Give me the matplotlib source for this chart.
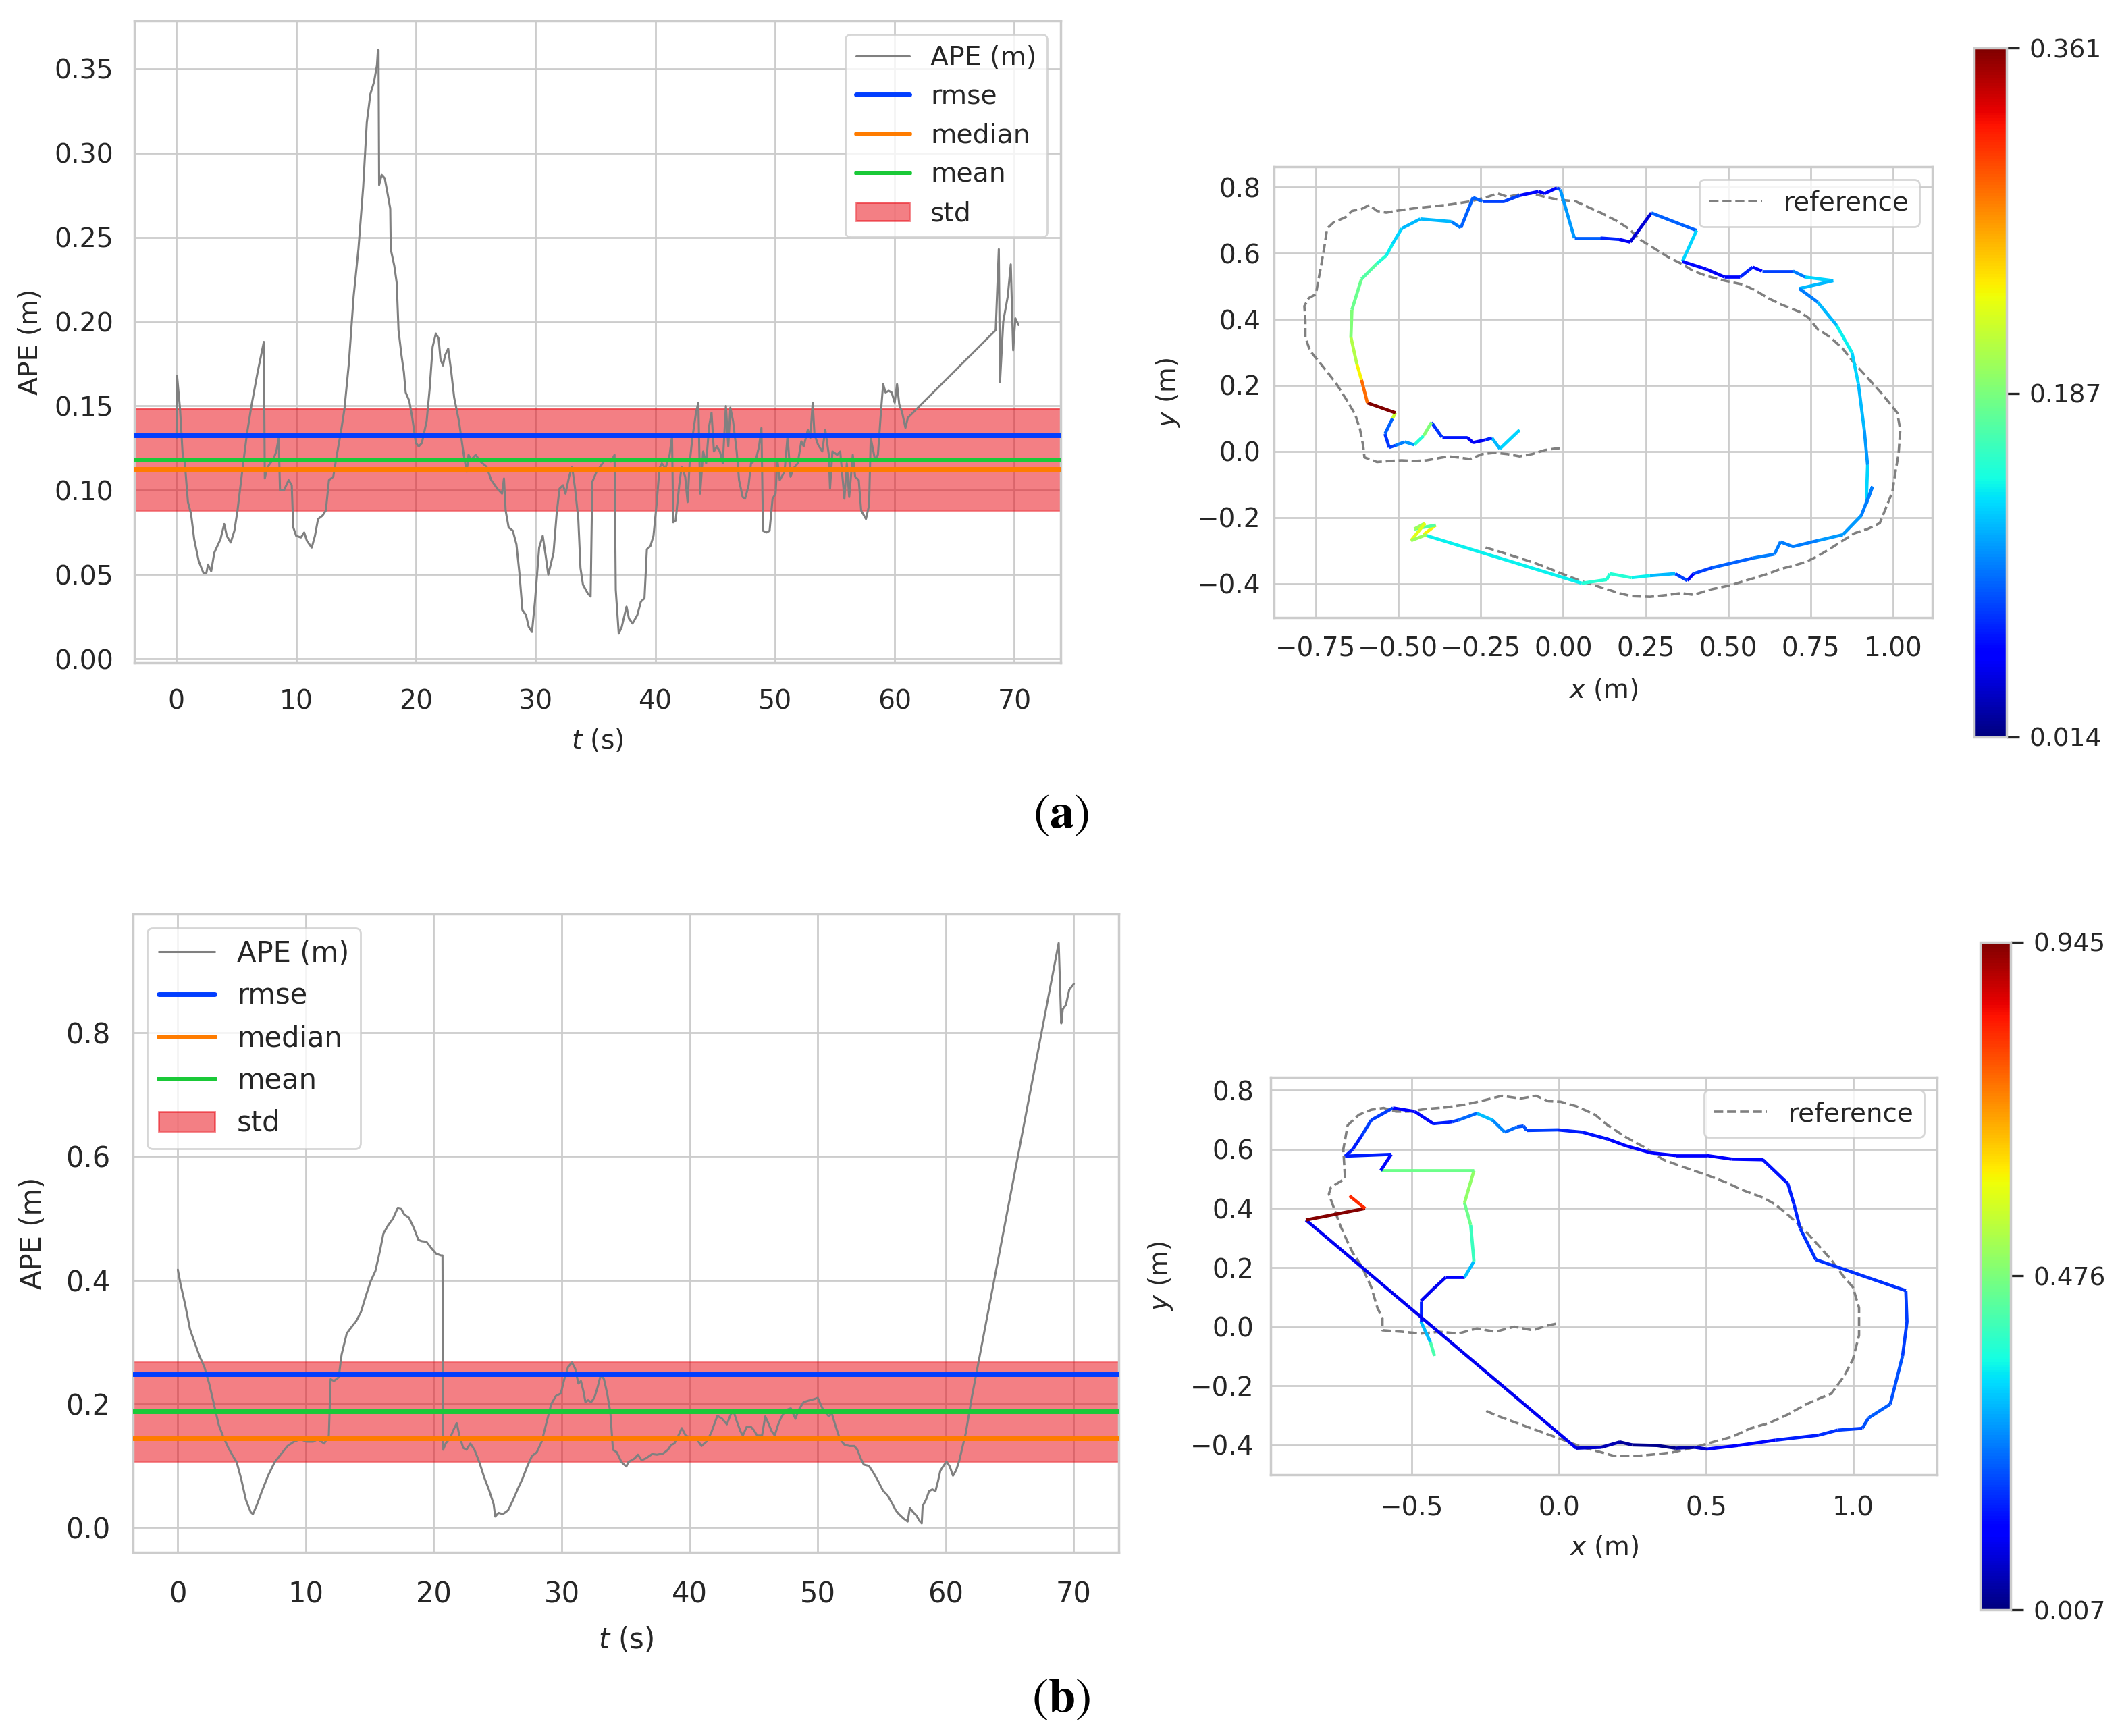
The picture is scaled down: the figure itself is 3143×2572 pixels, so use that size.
import numpy as np
import matplotlib
matplotlib.use("Agg")
import matplotlib.pyplot as plt
import seaborn as sns
from matplotlib.collections import LineCollection
from matplotlib.colors import Normalize
from matplotlib.cm import ScalarMappable

# -------------------------
# Data
# -------------------------
# (a) APE over time
ape_a = np.array([
    (0.0, 0.131), (0.05, 0.168), (0.3, 0.148), (0.52, 0.121), (0.7, 0.116), (0.96, 0.093),
    (1.22, 0.086), (1.48, 0.071), (1.86, 0.058), (2.25, 0.051), (2.5, 0.051), (2.64, 0.056),
    (2.9, 0.052), (3.16, 0.063), (3.42, 0.067), (3.68, 0.071), (3.99, 0.080), (4.2, 0.073),
    (4.53, 0.069), (4.84, 0.076), (5.1, 0.088), (5.49, 0.111), (5.88, 0.133), (6.26, 0.150),
    (6.78, 0.170), (7.3, 0.188), (7.38, 0.107), (7.56, 0.113), (7.82, 0.116), (8.08, 0.118),
    (8.34, 0.123), (8.54, 0.131), (8.65, 0.100), (8.98, 0.100), (9.37, 0.106), (9.63, 0.103),
    (9.76, 0.078), (10.0, 0.073), (10.4, 0.072), (10.67, 0.075), (10.9, 0.070), (11.3, 0.066),
    (11.57, 0.073), (11.83, 0.083), (12.2, 0.085), (12.48, 0.088), (12.74, 0.106), (13.1, 0.108),
    (13.4, 0.121), (13.77, 0.136), (14.03, 0.148), (14.4, 0.175), (14.8, 0.215), (15.2, 0.243),
    (15.6, 0.280), (15.9, 0.318), (16.2, 0.335), (16.5, 0.342), (16.75, 0.352), (16.83, 0.361),
    (16.88, 0.361), (16.93, 0.281), (17.14, 0.287), (17.4, 0.285), (17.66, 0.275), (17.86, 0.267),
    (17.9, 0.243), (18.2, 0.233), (18.4, 0.223), (18.55, 0.195), (18.8, 0.180), (19.0, 0.170),
    (19.15, 0.158), (19.45, 0.153), (19.7, 0.143), (20.0, 0.128), (20.24, 0.126), (20.5, 0.128),
    (20.9, 0.141), (21.15, 0.160), (21.4, 0.185), (21.67, 0.193), (21.9, 0.190), (22.05, 0.178),
    (22.26, 0.174), (22.44, 0.180), (22.7, 0.184), (22.96, 0.170), (23.2, 0.155), (23.6, 0.141),
    (24.0, 0.121), (24.25, 0.111), (24.4, 0.121), (24.6, 0.118), (25.0, 0.121), (25.4, 0.117),
    (25.9, 0.114), (26.3, 0.106), (26.8, 0.101), (27.2, 0.098), (27.36, 0.107), (27.5, 0.088),
    (27.75, 0.078), (28.1, 0.076), (28.4, 0.068), (28.65, 0.051), (28.9, 0.029), (29.2, 0.026),
    (29.43, 0.019), (29.7, 0.016), (29.95, 0.034), (30.3, 0.066), (30.6, 0.073), (30.85, 0.061),
    (31.06, 0.050), (31.2, 0.054), (31.5, 0.063), (31.76, 0.086), (32.0, 0.101), (32.3, 0.103),
    (32.5, 0.098), (32.8, 0.108), (33.05, 0.114), (33.3, 0.101), (33.57, 0.083), (33.75, 0.054),
    (33.96, 0.044), (34.35, 0.039), (34.6, 0.037), (34.74, 0.105), (35.1, 0.111), (35.4, 0.114),
    (35.8, 0.118), (36.3, 0.117), (36.6, 0.121), (36.7, 0.041), (36.95, 0.015), (37.2, 0.019),
    (37.6, 0.031), (37.8, 0.024), (38.1, 0.021), (38.5, 0.026), (38.8, 0.034), (39.1, 0.036),
    (39.3, 0.065), (39.6, 0.067), (39.85, 0.073), (40.1, 0.091), (40.35, 0.113), (40.55, 0.116),
    (40.85, 0.113), (41.2, 0.121), (41.4, 0.132), (41.5, 0.081), (41.7, 0.082), (42.0, 0.103),
    (42.2, 0.114), (42.5, 0.108), (42.7, 0.093), (42.87, 0.116), (43.1, 0.131), (43.4, 0.146),
    (43.6, 0.152), (43.75, 0.098), (44.0, 0.123), (44.25, 0.116), (44.5, 0.138), (44.7, 0.146),
    (44.9, 0.123), (45.14, 0.126), (45.4, 0.123), (45.64, 0.116), (45.9, 0.150), (46.1, 0.126),
    (46.27, 0.149), (46.5, 0.141), (46.8, 0.123), (47.0, 0.106), (47.3, 0.096), (47.5, 0.095),
    (47.8, 0.103), (48.0, 0.116), (48.4, 0.118), (48.67, 0.126), (48.87, 0.137), (49.0, 0.076),
    (49.3, 0.075), (49.55, 0.076), (49.8, 0.095), (50.05, 0.098), (50.2, 0.118), (50.4, 0.106),
    (50.8, 0.111), (51.05, 0.132), (51.3, 0.108), (51.56, 0.113), (51.9, 0.116), (52.2, 0.129),
    (52.4, 0.126), (52.75, 0.136), (52.95, 0.131), (53.15, 0.152), (53.3, 0.133), (53.6, 0.127),
    (53.95, 0.123), (54.2, 0.136), (54.5, 0.121), (54.6, 0.101), (54.8, 0.123), (55.2, 0.121),
    (55.45, 0.123), (55.8, 0.095), (56.0, 0.116), (56.2, 0.096), (56.5, 0.121), (56.7, 0.108),
    (57.0, 0.106), (57.2, 0.088), (57.6, 0.083), (57.86, 0.091), (58.0, 0.131), (58.36, 0.118),
    (58.6, 0.121), (58.87, 0.148), (59.04, 0.163), (59.24, 0.158), (59.5, 0.159), (59.75, 0.158),
    (60.0, 0.152), (60.2, 0.163), (60.38, 0.151), (60.63, 0.146), (60.9, 0.137), (61.1, 0.143),
    (68.44, 0.195), (68.7, 0.243), (68.8, 0.164), (69.07, 0.200), (69.45, 0.215), (69.7, 0.234),
    (69.9, 0.183), (70.08, 0.202), (70.35, 0.198),
])
stats_a = {"rmse": 0.1326, "median": 0.1124, "mean": 0.1182, "std": 0.0605}

# (b) APE over time
ape_b = np.array([
    (0.0, 0.417), (0.2, 0.395), (0.57, 0.361), (0.95, 0.321), (1.3, 0.300), (1.7, 0.277),
    (2.07, 0.260), (2.45, 0.233), (2.82, 0.200), (3.2, 0.166), (3.57, 0.146), (3.95, 0.129),
    (4.3, 0.116), (4.6, 0.106), (4.95, 0.079), (5.32, 0.045), (5.7, 0.025), (5.87, 0.022),
    (6.2, 0.038), (6.57, 0.059), (7.07, 0.085), (7.57, 0.106), (8.07, 0.119), (8.57, 0.132),
    (9.07, 0.139), (9.57, 0.143), (10.07, 0.139), (10.57, 0.139), (10.94, 0.143), (11.44, 0.136),
    (11.8, 0.149), (11.94, 0.240), (12.2, 0.237), (12.57, 0.243), (12.8, 0.280), (13.2, 0.314),
    (13.56, 0.324), (13.94, 0.334), (14.3, 0.348), (14.7, 0.375), (15.06, 0.398), (15.44, 0.415),
    (15.8, 0.448), (16.06, 0.475), (16.44, 0.489), (16.8, 0.499), (17.19, 0.517), (17.44, 0.516),
    (17.7, 0.506), (18.06, 0.501), (18.43, 0.485), (18.8, 0.465), (19.06, 0.463), (19.43, 0.462),
    (19.8, 0.452), (20.18, 0.443), (20.56, 0.440), (20.68, 0.440), (20.73, 0.126), (20.93, 0.136),
    (21.3, 0.146), (21.56, 0.159), (21.8, 0.169), (22.0, 0.149), (22.3, 0.129), (22.56, 0.126),
    (22.86, 0.136), (23.18, 0.126), (23.56, 0.106), (23.93, 0.082), (24.3, 0.062), (24.68, 0.038),
    (24.8, 0.018), (25.06, 0.024), (25.4, 0.022), (25.8, 0.028), (26.2, 0.045), (26.55, 0.062),
    (26.93, 0.079), (27.3, 0.099), (27.68, 0.116), (28.05, 0.122), (28.43, 0.139), (28.8, 0.169),
    (29.18, 0.200), (29.55, 0.213), (29.93, 0.217), (30.2, 0.240), (30.5, 0.260), (30.8, 0.267),
    (31.05, 0.257), (31.3, 0.233), (31.5, 0.237), (31.7, 0.220), (31.85, 0.203), (32.05, 0.206),
    (32.3, 0.203), (32.55, 0.210), (32.8, 0.227), (33.05, 0.247), (33.3, 0.240), (33.55, 0.217),
    (33.8, 0.186), (34.0, 0.126), (34.3, 0.122), (34.67, 0.106), (35.05, 0.099), (35.2, 0.106),
    (35.7, 0.112), (35.95, 0.118), (36.24, 0.109), (36.57, 0.112), (37.06, 0.119), (37.44, 0.118),
    (37.93, 0.120), (38.3, 0.126), (38.56, 0.134), (38.8, 0.136), (39.05, 0.146), (39.38, 0.161),
    (39.68, 0.149), (40.05, 0.146), (40.55, 0.143), (40.92, 0.132), (41.3, 0.139), (41.67, 0.153),
    (41.9, 0.166), (42.16, 0.181), (42.54, 0.176), (42.9, 0.167), (43.16, 0.181), (43.4, 0.190),
    (43.66, 0.173), (43.96, 0.156), (44.15, 0.149), (44.45, 0.163), (44.78, 0.163), (45.0, 0.158),
    (45.27, 0.149), (45.65, 0.149), (45.9, 0.180), (46.14, 0.169), (46.4, 0.156), (46.64, 0.149),
    (46.9, 0.166), (47.14, 0.178), (47.5, 0.190), (47.9, 0.193), (48.26, 0.176), (48.5, 0.190),
    (48.9, 0.203), (49.38, 0.206), (49.75, 0.208), (50.0, 0.210), (50.37, 0.193), (50.62, 0.186),
    (50.87, 0.180), (51.1, 0.185), (51.37, 0.166), (51.74, 0.143), (52.1, 0.134), (52.5, 0.132),
    (52.87, 0.132), (53.1, 0.126), (53.36, 0.112), (53.6, 0.102), (54.0, 0.100), (54.35, 0.089),
    (54.73, 0.075), (55.1, 0.060), (55.47, 0.052), (55.85, 0.038), (56.1, 0.028), (56.34, 0.022),
    (56.7, 0.015), (57.03, 0.010), (57.2, 0.032), (57.46, 0.025), (57.7, 0.020), (57.96, 0.011),
    (58.13, 0.007), (58.2, 0.035), (58.46, 0.045), (58.7, 0.059), (58.96, 0.062), (59.2, 0.059),
    (59.4, 0.075), (59.58, 0.092), (59.83, 0.100), (60.07, 0.107), (60.32, 0.099), (60.57, 0.084),
    (60.82, 0.093), (61.07, 0.109), (61.57, 0.153), (62.06, 0.213), (68.83, 0.945), (69.03, 0.815),
    (69.15, 0.838), (69.4, 0.845), (69.65, 0.869), (70.02, 0.879),
])
stats_b = {"rmse": 0.248, "median": 0.1439, "mean": 0.1876, "std": 0.160}

# reference trajectories (x, y)
ref_a = np.array([
    (-0.010, 0.010), (-0.028, 0.008), (-0.056, 0.004), (-0.094, -0.008), (-0.132, -0.015),
    (-0.169, -0.008), (-0.207, -0.004), (-0.245, -0.008), (-0.282, -0.023), (-0.320, -0.018),
    (-0.348, -0.015), (-0.376, -0.020), (-0.414, -0.027), (-0.451, -0.029), (-0.489, -0.027),
    (-0.527, -0.029), (-0.564, -0.032), (-0.602, -0.018), (-0.606, 0.018), (-0.615, 0.065),
    (-0.630, 0.112), (-0.658, 0.159), (-0.687, 0.205), (-0.715, 0.241), (-0.743, 0.276),
    (-0.767, 0.305), (-0.781, 0.346), (-0.781, 0.393), (-0.784, 0.440), (-0.771, 0.464),
    (-0.749, 0.476), (-0.743, 0.511), (-0.734, 0.558), (-0.724, 0.616), (-0.715, 0.675),
    (-0.696, 0.693), (-0.658, 0.710), (-0.640, 0.728), (-0.611, 0.734), (-0.587, 0.746),
    (-0.564, 0.728), (-0.536, 0.723), (-0.508, 0.728), (-0.451, 0.736), (-0.395, 0.742),
    (-0.339, 0.748), (-0.282, 0.757), (-0.235, 0.769), (-0.198, 0.781), (-0.169, 0.771),
    (-0.132, 0.778), (-0.094, 0.781), (-0.056, 0.771), (-0.019, 0.763), (0.038, 0.757),
    (0.075, 0.740), (0.113, 0.723), (0.160, 0.699), (0.198, 0.675), (0.235, 0.640),
    (0.282, 0.611), (0.320, 0.587), (0.357, 0.569), (0.395, 0.546), (0.433, 0.532),
    (0.489, 0.517), (0.546, 0.505), (0.583, 0.487), (0.621, 0.464), (0.658, 0.446),
    (0.715, 0.423), (0.743, 0.405), (0.771, 0.370), (0.809, 0.346), (0.847, 0.311),
    (0.884, 0.264), (0.922, 0.223), (0.959, 0.182), (0.988, 0.147), (1.012, 0.117),
    (1.021, 0.065), (1.016, -0.006), (1.006, -0.065), (0.997, -0.123), (0.978, -0.170),
    (0.959, -0.217), (0.922, -0.235), (0.884, -0.247), (0.847, -0.270), (0.809, -0.294),
    (0.771, -0.317), (0.734, -0.335), (0.696, -0.346), (0.658, -0.356), (0.621, -0.370),
    (0.583, -0.382), (0.546, -0.393), (0.508, -0.405), (0.451, -0.417), (0.395, -0.434),
    (0.357, -0.429), (0.320, -0.434), (0.263, -0.440), (0.207, -0.438), (0.169, -0.429),
    (0.132, -0.417), (0.094, -0.405), (0.056, -0.393), (0.019, -0.379), (-0.019, -0.364),
    (-0.056, -0.349), (-0.094, -0.335), (-0.132, -0.323), (-0.169, -0.311), (-0.207, -0.299),
    (-0.235, -0.291),
])

ref_b = np.array([
    (-0.010, 0.010), (-0.040, 0.004), (-0.089, -0.012), (-0.152, 0.000), (-0.216, -0.017),
    (-0.279, -0.006), (-0.342, -0.023), (-0.406, -0.017), (-0.469, -0.023), (-0.532, -0.017),
    (-0.600, -0.012), (-0.600, 0.029), (-0.617, 0.064), (-0.638, 0.134), (-0.670, 0.204),
    (-0.701, 0.250), (-0.723, 0.297), (-0.744, 0.344), (-0.765, 0.402), (-0.782, 0.449),
    (-0.775, 0.472), (-0.727, 0.501), (-0.733, 0.600), (-0.718, 0.682), (-0.680, 0.717),
    (-0.638, 0.734), (-0.596, 0.740), (-0.554, 0.728), (-0.511, 0.728), (-0.448, 0.737),
    (-0.385, 0.742), (-0.321, 0.751), (-0.258, 0.765), (-0.194, 0.781), (-0.131, 0.772),
    (-0.078, 0.781), (-0.036, 0.763), (0.006, 0.761), (0.059, 0.746), (0.123, 0.717),
    (0.165, 0.682), (0.228, 0.641), (0.292, 0.606), (0.355, 0.565), (0.418, 0.542),
    (0.503, 0.513), (0.566, 0.489), (0.630, 0.460), (0.693, 0.437), (0.735, 0.414),
    (0.778, 0.379), (0.841, 0.320), (0.883, 0.274), (0.925, 0.227), (0.968, 0.169),
    (0.999, 0.134), (1.020, 0.064), (1.020, -0.029), (0.999, -0.111), (0.968, -0.169),
    (0.925, -0.227), (0.894, -0.239), (0.841, -0.262), (0.778, -0.297), (0.714, -0.326),
    (0.651, -0.344), (0.587, -0.373), (0.524, -0.390), (0.461, -0.408), (0.387, -0.425),
    (0.334, -0.431), (0.270, -0.437), (0.186, -0.437), (0.144, -0.425), (0.080, -0.408),
    (0.017, -0.384), (-0.046, -0.361), (-0.110, -0.338), (-0.173, -0.315), (-0.216, -0.299),
    (-0.247, -0.285),
])

# estimated trajectories (x, y, APE at that pose)
est_a = np.array([
    (-0.132, 0.065, 0.13), (-0.192, 0.008, 0.12), (-0.216, 0.041, 0.07), (-0.235, 0.035, 0.05),
    (-0.273, 0.027, 0.05), (-0.292, 0.043, 0.065), (-0.367, 0.043, 0.075), (-0.399, 0.088, 0.19),
    (-0.423, 0.047, 0.15), (-0.451, 0.020, 0.11), (-0.480, 0.029, 0.10), (-0.508, 0.018, 0.08),
    (-0.527, 0.012, 0.075), (-0.540, 0.053, 0.09), (-0.517, 0.100, 0.22), (-0.508, 0.117, 0.36),
    (-0.593, 0.147, 0.29), (-0.611, 0.217, 0.24), (-0.625, 0.264, 0.21), (-0.643, 0.346, 0.19),
    (-0.640, 0.429, 0.18), (-0.611, 0.522, 0.17), (-0.564, 0.569, 0.15), (-0.536, 0.593, 0.14),
    (-0.517, 0.628, 0.13), (-0.489, 0.675, 0.12), (-0.433, 0.704, 0.12), (-0.339, 0.696, 0.10),
    (-0.310, 0.677, 0.09), (-0.273, 0.769, 0.09), (-0.245, 0.757, 0.08), (-0.179, 0.757, 0.08),
    (-0.132, 0.775, 0.06), (-0.075, 0.787, 0.05), (-0.056, 0.781, 0.06), (-0.019, 0.798, 0.08),
    (-0.009, 0.793, 0.11), (0.034, 0.646, 0.09), (0.113, 0.646, 0.07), (0.169, 0.642, 0.05),
    (0.203, 0.634, 0.04), (0.267, 0.722, 0.09), (0.404, 0.669, 0.13), (0.361, 0.575, 0.06),
    (0.433, 0.552, 0.05), (0.489, 0.528, 0.06), (0.536, 0.528, 0.07), (0.574, 0.558, 0.06),
    (0.602, 0.546, 0.08), (0.696, 0.546, 0.10), (0.733, 0.528, 0.13), (0.818, 0.517, 0.12),
    (0.715, 0.493, 0.10), (0.771, 0.452, 0.12), (0.828, 0.382, 0.14), (0.875, 0.299, 0.13),
    (0.894, 0.205, 0.12), (0.912, 0.065, 0.11), (0.922, -0.041, 0.13), (0.918, -0.159, 0.10),
    (0.937, -0.106, 0.10), (0.903, -0.194, 0.11), (0.847, -0.252, 0.11), (0.771, -0.270, 0.10),
    (0.696, -0.288, 0.10), (0.658, -0.274, 0.10), (0.640, -0.311, 0.10), (0.574, -0.323, 0.09),
    (0.451, -0.352, 0.08), (0.395, -0.370, 0.06), (0.376, -0.391, 0.08), (0.339, -0.370, 0.12),
    (0.263, -0.376, 0.14), (0.207, -0.382, 0.15), (0.141, -0.370, 0.15), (0.132, -0.388, 0.15),
    (0.056, -0.399, 0.14), (-0.423, -0.252, 0.24), (-0.386, -0.223, 0.17), (-0.451, -0.235, 0.20),
    (-0.418, -0.217, 0.23), (-0.461, -0.270, 0.20), (-0.414, -0.252, 0.20),
])

est_b = np.array([
    (-0.423, -0.099, 0.42), (-0.437, -0.052, 0.30), (-0.469, 0.017, 0.15), (-0.469, 0.087, 0.10),
    (-0.427, 0.128, 0.10), (-0.385, 0.167, 0.12), (-0.321, 0.167, 0.30), (-0.289, 0.221, 0.40),
    (-0.300, 0.344, 0.46), (-0.321, 0.419, 0.50), (-0.289, 0.528, 0.46), (-0.606, 0.528, 0.13),
    (-0.570, 0.583, 0.15), (-0.727, 0.577, 0.15), (-0.701, 0.600, 0.15), (-0.670, 0.647, 0.18),
    (-0.638, 0.699, 0.18), (-0.564, 0.740, 0.12), (-0.490, 0.728, 0.13), (-0.427, 0.687, 0.15),
    (-0.363, 0.693, 0.18), (-0.342, 0.699, 0.22), (-0.279, 0.722, 0.30), (-0.226, 0.699, 0.25),
    (-0.184, 0.658, 0.22), (-0.142, 0.676, 0.20), (-0.120, 0.679, 0.20), (-0.110, 0.664, 0.18),
    (-0.004, 0.666, 0.15), (0.080, 0.658, 0.14), (0.165, 0.635, 0.13), (0.228, 0.612, 0.12),
    (0.313, 0.588, 0.12), (0.397, 0.579, 0.11), (0.503, 0.579, 0.12), (0.587, 0.567, 0.13),
    (0.693, 0.565, 0.14), (0.778, 0.484, 0.15), (0.799, 0.414, 0.16), (0.820, 0.332, 0.17),
    (0.873, 0.227, 0.17), (1.179, 0.122, 0.18), (1.183, 0.017, 0.18), (1.168, -0.099, 0.20),
    (1.126, -0.262, 0.21), (1.052, -0.309, 0.20), (1.031, -0.344, 0.18), (0.947, -0.350, 0.17),
    (0.883, -0.367, 0.15), (0.735, -0.384, 0.13), (0.608, -0.402, 0.11), (0.503, -0.414, 0.07),
    (0.461, -0.408, 0.04), (0.397, -0.411, 0.02), (0.334, -0.402, 0.02), (0.249, -0.400, 0.03),
    (0.207, -0.390, 0.05), (0.144, -0.408, 0.07), (0.059, -0.411, 0.10), (-0.860, 0.361, 0.94),
    (-0.659, 0.400, 0.82), (-0.712, 0.443, 0.86),
])

cbar_ticks_a = [0.014, 0.187, 0.361]
cbar_ticks_b = [0.007, 0.476, 0.945]

# -------------------------
# Style
# -------------------------
sns.set_style("whitegrid")
plt.rcParams.update({
    "font.family": ["DejaVu Sans"],
    "font.size": 14,
    "axes.linewidth": 1.25,
    "grid.linewidth": 1.0,
    "axes.edgecolor": ".8",
    "grid.color": ".8",
})

C_BLUE = "#023eff"
C_ORANGE = "#ff7c00"
C_GREEN = "#1ac938"
C_RED = "#e8000b"

W, H = 3143, 2572
fig = plt.figure(figsize=(W / 200, H / 200), dpi=200)


def px_axes(left, top, right, bottom):
    return fig.add_axes([left / W, 1 - bottom / H, (right - left) / W, (bottom - top) / H])


def ape_panel(ax, data, stats, legend_loc, fs, xpad, ypad, xlpad, ylpad):
    ax.plot(data[:, 0], data[:, 1], color="gray", lw=1.1, label="APE (m)", zorder=3)
    ax.axhline(stats["rmse"], color=C_BLUE, lw=2.5, label="rmse", zorder=4)
    ax.axhline(stats["median"], color=C_ORANGE, lw=2.5, label="median", zorder=4)
    ax.axhline(stats["mean"], color=C_GREEN, lw=2.5, label="mean", zorder=4)
    ax.axhspan(stats["mean"] - stats["std"] / 2, stats["mean"] + stats["std"] / 2,
               color=C_RED, alpha=0.5, label="std", zorder=2)
    ax.set_xlabel("$t$ (s)", fontsize=fs, labelpad=xlpad)
    ax.set_ylabel("APE (m)", fontsize=fs, labelpad=ylpad)
    ax.set_xticks(range(0, 71, 10))
    ax.tick_params(length=0, labelsize=fs)
    ax.tick_params(axis="x", pad=xpad)
    ax.tick_params(axis="y", pad=ypad)
    ax.legend(loc=legend_loc, frameon=True, edgecolor=".8", framealpha=0.8, fontsize=fs)


def traj_panel(ax, ref, est, ticks, xlim, ylim, xticks, xpad, ypad, xlpad, ylpad):
    ax.plot(ref[:, 0], ref[:, 1], "--", color="gray", lw=1.3, label="reference", zorder=3)
    norm = Normalize(vmin=ticks[0], vmax=ticks[-1])
    pts = est[:, :2]
    segs = np.stack([pts[:-1], pts[1:]], axis=1)
    lc = LineCollection(segs, cmap="jet", norm=norm, linewidths=1.7, zorder=4)
    lc.set_array(est[:-1, 2])
    ax.add_collection(lc)
    ax.set_xlim(*xlim)
    ax.set_ylim(*ylim)
    ax.set_xticks(xticks)
    ax.set_yticks([-0.4, -0.2, 0.0, 0.2, 0.4, 0.6, 0.8])
    ax.set_xlabel("$x$ (m)", fontsize=14, labelpad=xlpad)
    ax.set_ylabel("$y$ (m)", fontsize=14, labelpad=ylpad)
    ax.tick_params(length=0, labelsize=14)
    ax.tick_params(axis="x", pad=xpad)
    ax.tick_params(axis="y", pad=ypad)
    ax.legend(loc="upper right", frameon=True, edgecolor=".8", framealpha=0.8, fontsize=14)
    return norm


def add_cbar(cax, norm, ticks):
    cb = fig.colorbar(ScalarMappable(norm=norm, cmap="jet"), cax=cax, ticks=ticks)
    cb.ax.set_yticklabels([f"{v:.3f}" for v in ticks])
    cb.ax.tick_params(right=True, length=7, width=1.2, color=".15", labelsize=13.5, pad=5)
    cb.outline.set_edgecolor(".8")
    cb.outline.set_linewidth(1.25)


# (a)
ax1 = px_axes(199, 31, 1571, 982)
ape_panel(ax1, ape_a, stats_a, "upper right", 14.2, 14, 11, 7, 6)

ax2 = px_axes(1887, 247, 2862, 915)
norm_a = traj_panel(ax2, ref_a, est_a, cbar_ticks_a, (-0.876, 1.118), (-0.503, 0.862),
                    [-0.75, -0.5, -0.25, 0.0, 0.25, 0.5, 0.75, 1.0], 10, 7, 8, 8)
add_cbar(px_axes(2924, 71, 2972, 1092), norm_a, cbar_ticks_a)

# (b)
ax3 = px_axes(197, 1354, 1657, 2300)
ape_panel(ax3, ape_b, stats_b, "upper left", 15.0, 15, 12, 9, 10)

ax4 = px_axes(1882, 1596, 2869, 2185)
norm_b = traj_panel(ax4, ref_b, est_b, cbar_ticks_b, (-0.980, 1.285), (-0.501, 0.844),
                    [-0.5, 0.0, 0.5, 1.0], 11, 9, 7, 8)
add_cbar(px_axes(2933, 1396, 2978, 2385), norm_b, cbar_ticks_b)

fig.text(1571 / W, 1 - 1207 / H, r"$(\mathbf{a})$", math_fontfamily="stix",
         fontsize=26, ha="center", va="center", color="black")
fig.text(1571 / W, 1 - 2517 / H, r"$(\mathbf{b})$", math_fontfamily="stix",
         fontsize=26, ha="center", va="center", color="black")

fig.savefig("out.png", dpi=200)
